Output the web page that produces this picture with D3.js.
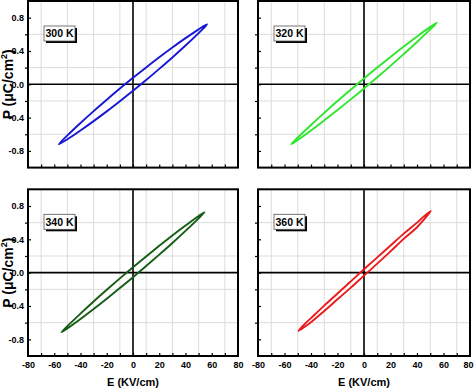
<!DOCTYPE html>
<html><head><meta charset="utf-8">
<script src="https://cdn.jsdelivr.net/npm/d3@7"></script>
<style>
html,body{margin:0;padding:0;background:#fff;}
svg{display:block;font-family:"Liberation Sans",Arial,sans-serif;font-weight:bold;}
</style></head><body>
<div id="chart"></div>
<script>
// ---- data ----
const temperatures = ["300 K", "320 K", "340 K", "360 K"];
const seriesColors = ["#1616d6", "#2ee62e", "#145c14", "#ea1a1a"];
const xTickLabels = [-80, -60, -40, -20, 0, 20, 40, 60, 80];
const xMinorTicks = [-70, -60, -50, -40, -30, -20, -10, 0, 10, 20, 30, 40, 50, 60, 70];
const xGrid = [-70, -50, -30, -10, 10, 30, 50, 70];
const yTickLabels = [-0.8, -0.4, 0.0, 0.4, 0.8];
const yMinorTicks = [-0.6, -0.2, 0.2, 0.6];
const yGrid = [-0.6, -0.2, 0.2, 0.6];
const xTitle = "E (KV/cm)";

// loops: E (kV/cm) and P (uC/cm2), upper branch from +tip to -tip, then lower branch back
const E300 = [56.5, 50, 40, 30, 20, 10, 0, -10, -20, -30, -40, -50, -56.5, -50, -40, -30, -20, -10, 0, 10, 20, 30, 40, 50];
const P300 = [0.72, 0.660, 0.554, 0.442, 0.325, 0.203, 0.078, -0.051, -0.185, -0.322, -0.465, -0.614, -0.72, -0.660, -0.554, -0.442, -0.325, -0.203, -0.078, 0.051, 0.185, 0.322, 0.465, 0.614];

const E320 = [55, 50, 40, 30, 20, 10, 0, -10, -20, -30, -40, -50, -55, -50, -40, -30, -20, -10, 0, 10, 20, 30, 40, 50];
const P320 = [0.74, 0.689, 0.574, 0.453, 0.329, 0.201, 0.070, -0.065, -0.201, -0.343, -0.488, -0.639, -0.72, -0.669, -0.554, -0.433, -0.309, -0.181, -0.050, 0.085, 0.221, 0.363, 0.508, 0.659];

const E340 = [54.5, 50, 40, 30, 20, 10, 0, -10, -20, -30, -40, -50, -54.5, -50, -40, -30, -20, -10, 0, 10, 20, 30, 40, 50];
const P340 = [0.725, 0.680, 0.565, 0.446, 0.322, 0.195, 0.065, -0.069, -0.206, -0.346, -0.491, -0.642, -0.715, -0.670, -0.556, -0.436, -0.312, -0.185, -0.055, 0.079, 0.216, 0.356, 0.501, 0.652];

const E360 = [50.5, 45, 40, 30, 20, 10, 0, -10, -20, -30, -40, -45, -49.6, -45, -40, -30, -20, -10, 0, 10, 20, 30, 40, 45];
const P360 = [0.74, 0.672, 0.600, 0.468, 0.325, 0.183, 0.040, -0.105, -0.250, -0.395, -0.545, -0.620, -0.70, -0.652, -0.595, -0.460, -0.320, -0.180, -0.036, 0.108, 0.255, 0.405, 0.545, 0.632];

const loopsE = [E300, E320, E340, E360];
const loopsP = [P300, P320, P340, P360];

// ---- layout ----
const W = 474, H = 391;
const panels = [
  {x0: 28, x1: 238, y0: 1, y1: 167.6, yLabels: true, xLabels: false},
  {x0: 258, x1: 470, y0: 1, y1: 167.6, yLabels: false, xLabels: false},
  {x0: 28, x1: 238, y0: 189.3, y1: 356, yLabels: true, xLabels: true},
  {x0: 258, x1: 470, y0: 189.3, y1: 356, yLabels: false, xLabels: true}
];

const svg = d3.select("#chart").append("svg").attr("width", W).attr("height", H);
const fmt = d => d.toFixed(1);

panels.forEach((p, i) => {
  const x = d3.scaleLinear().domain([-80, 80]).range([p.x0, p.x1]);
  const y = d3.scaleLinear().domain([-1, 1]).range([p.y1, p.y0]);
  const g = svg.append("g");

  // grid
  g.selectAll(".gx").data(xGrid).join("line")
    .attr("x1", d => x(d)).attr("x2", d => x(d)).attr("y1", p.y0).attr("y2", p.y1)
    .attr("stroke", "#dcdcdc").attr("stroke-width", 1);
  g.selectAll(".gy").data(yGrid).join("line")
    .attr("y1", d => y(d)).attr("y2", d => y(d)).attr("x1", p.x0).attr("x2", p.x1)
    .attr("stroke", "#dcdcdc").attr("stroke-width", 1);

  // zero lines
  g.append("line").attr("x1", x(0)).attr("x2", x(0)).attr("y1", p.y0).attr("y2", p.y1)
    .attr("stroke", "#000").attr("stroke-width", 1.6);
  g.append("line").attr("y1", y(0)).attr("y2", y(0)).attr("x1", p.x0).attr("x2", p.x1)
    .attr("stroke", "#000").attr("stroke-width", 1.6);

  // ticks: bottom inward every 10
  const bx = g.append("g").attr("transform", `translate(0,${p.y1})`)
    .call(d3.axisBottom(x).tickValues(xMinorTicks).tickSize(-3).tickFormat(""));
  bx.select(".domain").remove();
  bx.selectAll("line").attr("stroke", "#000").attr("stroke-width", 1.2);
  // left inward major ticks
  const ly = g.append("g").attr("transform", `translate(${p.x0},0)`)
    .call(d3.axisLeft(y).tickValues(yTickLabels).tickSize(-3).tickFormat(""));
  ly.select(".domain").remove();
  ly.selectAll("line").attr("stroke", "#000").attr("stroke-width", 1.2);
  // left minor ticks outward
  const lm = g.append("g").attr("transform", `translate(${p.x0},0)`)
    .call(d3.axisLeft(y).tickValues(yMinorTicks).tickSize(3).tickFormat(""));
  lm.select(".domain").remove();
  lm.selectAll("line").attr("stroke", "#000").attr("stroke-width", 1.2);

  // loop
  const pts = loopsE[i].map((e, k) => [e, loopsP[i][k]]);
  g.append("path").datum(pts)
    .attr("d", d3.line().x(d => x(d[0])).y(d => y(d[1])).curve(d3.curveCatmullRomClosed.alpha(0.5)))
    .attr("fill", "none").attr("stroke", seriesColors[i]).attr("stroke-width", 1.9);

  // frame
  g.append("rect").attr("x", p.x0).attr("y", p.y0).attr("width", p.x1 - p.x0).attr("height", p.y1 - p.y0)
    .attr("fill", "none").attr("stroke", "#000").attr("stroke-width", 2);

  // y labels
  if (p.yLabels) {
    const ya = g.append("g").attr("transform", `translate(${p.x0},0)`)
      .call(d3.axisLeft(y).tickValues(yTickLabels).tickSize(0).tickPadding(4).tickFormat(fmt));
    ya.select(".domain").remove();
    ya.selectAll("text").attr("font-size", 9).attr("font-weight", "bold")
      .attr("font-family", "Liberation Sans, Arial, sans-serif").attr("fill", "#000");
    svg.append("text")
      .attr("transform", `translate(13,${(p.y0 + p.y1) / 2}) rotate(-90)`)
      .attr("text-anchor", "middle").attr("font-size", 14).attr("fill", "#000")
      .call(t => {
        t.append("tspan").text("P (μC/cm");
        t.append("tspan").attr("font-size", 9).attr("dy", -6).text("2");
        t.append("tspan").attr("dy", 6).text(")");
      });
  }
  if (p.xLabels) {
    const xa = g.append("g").attr("transform", `translate(0,${p.y1})`)
      .call(d3.axisBottom(x).tickValues(xTickLabels).tickSize(0).tickPadding(6).tickFormat(d => d));
    xa.select(".domain").remove();
    xa.selectAll("text").attr("font-size", 9).attr("font-weight", "bold")
      .attr("font-family", "Liberation Sans, Arial, sans-serif").attr("fill", "#000");
    // keep the right-most label inside the page
    xa.selectAll(".tick").filter(d => x(d) > W - 8).select("text")
      .attr("text-anchor", "end").attr("x", W - 1 - x(80));
    svg.append("text").attr("x", (p.x0 + p.x1) / 2).attr("y", 386)
      .attr("text-anchor", "middle").attr("font-size", 11).attr("fill", "#000").text(xTitle);
  }

  // temperature label box
  const bxl = p.x0 + 16, byt = p.y0 + 25, bw = 31, bh = 15;
  g.append("rect").attr("x", bxl + 2).attr("y", byt + 2).attr("width", bw).attr("height", bh).attr("fill", "#000");
  g.append("rect").attr("x", bxl).attr("y", byt).attr("width", bw).attr("height", bh)
    .attr("fill", "#fff").attr("stroke", "#555").attr("stroke-width", 0.8);
  g.append("text").attr("x", bxl + bw / 2).attr("y", byt + bh / 2 + 3.8)
    .attr("text-anchor", "middle").attr("font-size", 10.5).attr("fill", "#000").text(temperatures[i]);
});
</script>
</body></html>
